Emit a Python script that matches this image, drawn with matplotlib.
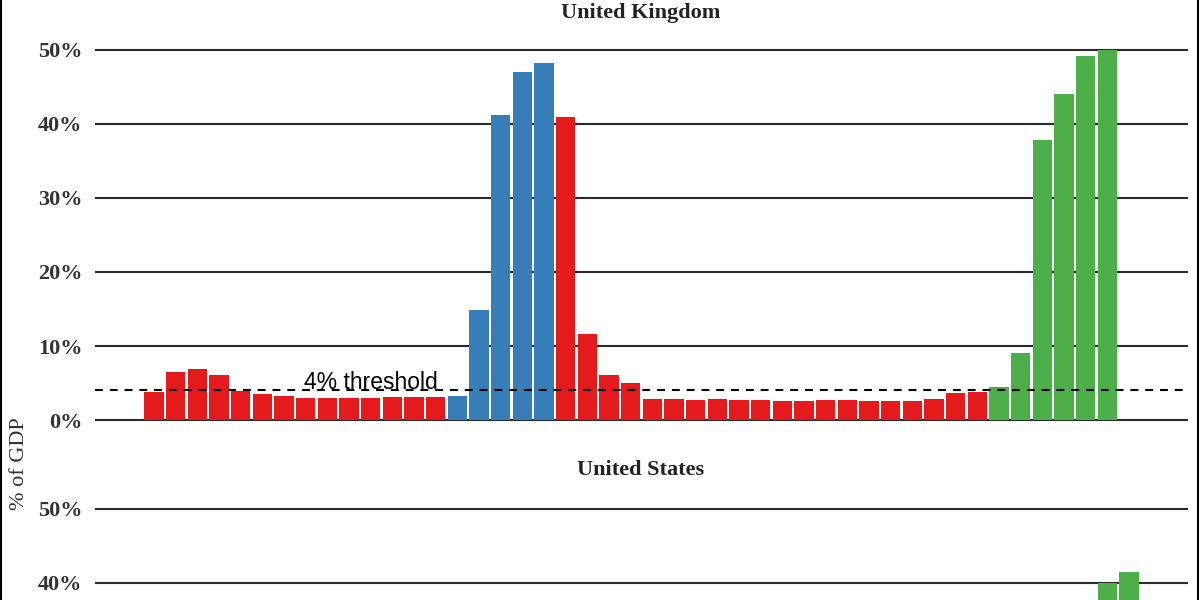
import matplotlib
matplotlib.use("Agg")
import matplotlib.pyplot as plt
from matplotlib.lines import Line2D

# Data (% of GDP), one bar per period
uk_values = [3.8, 6.5, 6.9, 6.1, 3.9, 3.5, 3.2, 2.95, 3.0, 3.0, 3.0, 3.15, 3.1, 3.1,
             3.2, 14.9, 41.2, 47.0, 48.2,
             41.0, 11.65, 6.1, 5.0, 2.86, 2.86, 2.68, 2.9, 2.73, 2.73, 2.55, 2.6,
             2.73, 2.64, 2.6, 2.6, 2.6, 2.9, 3.7, 3.8,
             4.5, 9.0, 37.9, 44.0, 49.2, 50.0]
uk_groups = "RRRRRRRRRRRRRRBBBBBRRRRRRRRRRRRRRRRRRRRGGGGGG"

# United States panel: only the top of the panel is visible
us_periods = [44, 45]
us_values = [40.05, 41.5]
us_groups = "GG"

yticks = [0, 10, 20, 30, 40, 50]
ytick_labels = ["0%", "10%", "20%", "30%", "40%", "50%"]
us_yticks = [40, 50]
us_ytick_labels = ["40%", "50%"]
threshold = 4

colors = {"R": "#e41a1c", "B": "#377eb8", "G": "#4daf4a"}

W, H = 1200, 600
fig = plt.figure(figsize=(12, 6), dpi=100)

px_per_unit = 7.4
ylim = (-0.3, 52)
ax_h = (ylim[1] - ylim[0]) * px_per_unit
left, right = 95, 1188


def make_axes(zero_from_top, ticks, labels):
    bottom = H - zero_from_top - (-ylim[0]) * px_per_unit
    ax = fig.add_axes([left / W, bottom / H, (right - left) / W, ax_h / H])
    ax.set_xlim(-2.72, 47.72)
    ax.set_ylim(*ylim)
    for s in ax.spines.values():
        s.set_visible(False)
    ax.set_xticks([])
    ax.set_yticks(ticks)
    ax.set_yticklabels(labels, fontfamily="Liberation Serif",
                       fontweight="bold", fontsize=16, color="#333333")
    ax.tick_params(axis="y", length=0, pad=9)
    ax.yaxis.grid(True, color="#2b2b2b", linewidth=1.5)
    ax.set_axisbelow(True)
    ax.patch.set_alpha(0)
    return ax


ax_uk = make_axes(420, yticks, ytick_labels)
ax_us = make_axes(879, us_yticks, us_ytick_labels)

ax_uk.bar(range(len(uk_values)), uk_values, width=0.89,
          color=[colors[g] for g in uk_groups], zorder=2)
ax_uk.axhline(threshold, color="black", linewidth=1.5,
              linestyle=(0, (3.8, 3.3)), zorder=3)
ax_uk.text(10, threshold + 0.15, "4% threshold", ha="center", va="baseline",
           fontfamily="Liberation Sans", fontsize=16.5, color="black", zorder=4)

ax_us.bar(us_periods, us_values, width=0.89,
          color=[colors[g] for g in us_groups], zorder=2)

fig.text(641 / W, 1 - 13 / H, "United Kingdom", ha="center", va="center",
         fontfamily="Liberation Serif", fontweight="bold", fontsize=16,
         color="#222222")
fig.text(641 / W, 1 - 470 / H, "United States", ha="center", va="center",
         fontfamily="Liberation Serif", fontweight="bold", fontsize=16,
         color="#222222")
fig.text(20 / W, 1 - 464 / H, "% of GDP", rotation=90, ha="center", va="center",
         fontfamily="Liberation Serif", fontsize=16, color="#333333")

# figure frame edges visible in the crop
fig.add_artist(Line2D([1 / W, 1 / W], [0, 1], color="black", linewidth=1.5))
fig.add_artist(Line2D([1198 / W, 1198 / W], [0, 1], color="black", linewidth=1.5))

fig.savefig("out.png", dpi=100)
